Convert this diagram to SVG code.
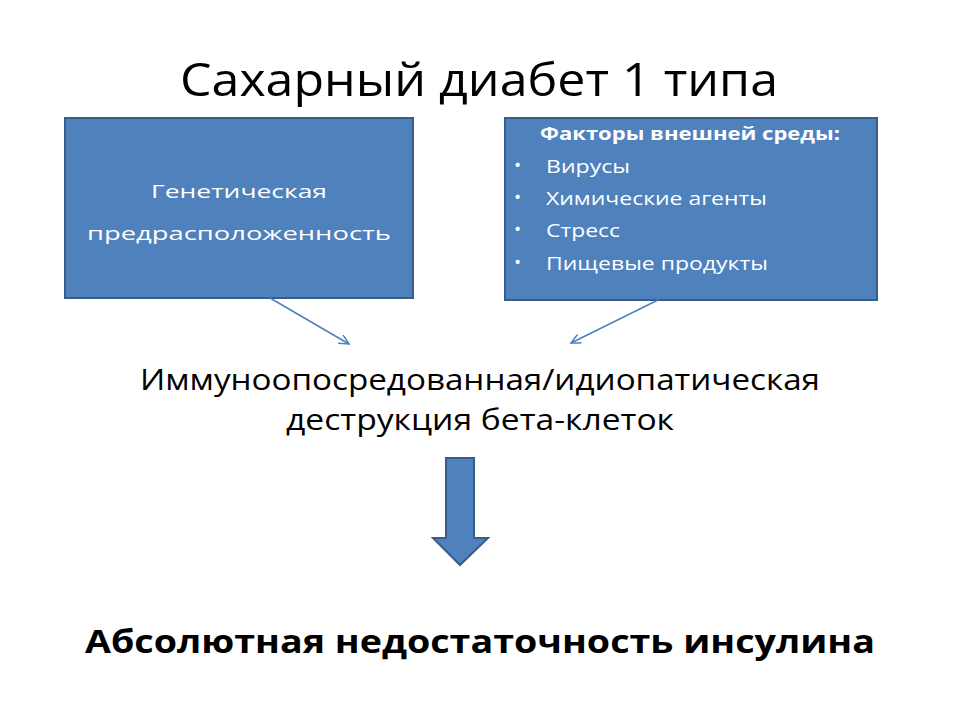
<svg xmlns="http://www.w3.org/2000/svg" width="960" height="720" viewBox="0 0 960 720">
<style>
text{font-family:"Open Sans","Liberation Sans",sans-serif;}
.box{fill:#4f81bd;stroke:#385d8a;stroke-width:2;}
.w{fill:#fff;font-size:19px;}
.c{stroke:#4f81bd;stroke-width:1.5;fill:none;marker-end:url(#ah);}
</style>
<defs><marker id="ah" markerWidth="12" markerHeight="10" refX="10" refY="5" orient="auto" markerUnits="userSpaceOnUse"><path d="M0,0 L10,5 L0,10" fill="none" stroke="#4f81bd" stroke-width="1.5"/></marker></defs>
<rect width="960" height="720" fill="#fff"/>
<text x="479" y="96" font-size="46" text-anchor="middle" textLength="598" lengthAdjust="spacingAndGlyphs" fill="#000">Сахарный диабет 1 типа</text>
<g id="genetic">
<rect class="box" x="65" y="118" width="348" height="180"/>
<text class="w" x="239" y="198" font-size="23" text-anchor="middle" textLength="176" lengthAdjust="spacingAndGlyphs">Генетическая</text>
<text class="w" x="239" y="240" font-size="23" text-anchor="middle" textLength="304" lengthAdjust="spacingAndGlyphs">предрасположенность</text>
</g>
<g id="env">
<rect class="box" x="505" y="118" width="372" height="182"/>
<text x="690" y="140" fill="#fff" font-size="18" font-weight="bold" text-anchor="middle" textLength="300" lengthAdjust="spacingAndGlyphs">Факторы внешней среды:</text>
<g class="w">
<text x="514" y="172">•</text><text x="546" y="173" textLength="84" lengthAdjust="spacingAndGlyphs">Вирусы</text>
<text x="514" y="204">•</text><text x="546" y="205" textLength="221" lengthAdjust="spacingAndGlyphs">Химические агенты</text>
<text x="514" y="236">•</text><text x="546" y="237" textLength="74" lengthAdjust="spacingAndGlyphs">Стресс</text>
<text x="514" y="269">•</text><text x="546" y="270" textLength="222" lengthAdjust="spacingAndGlyphs">Пищевые продукты</text>
</g>
</g>
<g id="connectors">
<path class="c" d="M270,298 L349,344"/>
<path class="c" d="M658,300 L571,343"/>
<path d="M446,458 H474 V538 H488 L460,565 L433,538 H446 Z" fill="#4f81bd" stroke="#385d8a" stroke-width="2"/>
</g>
<g id="destruction">
<text x="480" y="390" font-size="29" text-anchor="middle" textLength="680" lengthAdjust="spacingAndGlyphs" fill="#000">Иммуноопосредованная/идиопатическая</text>
<text x="480" y="430" font-size="29" text-anchor="middle" textLength="388" lengthAdjust="spacingAndGlyphs" fill="#000">деструкция бета-клеток</text>
</g>
<g id="result">
<text x="480" y="653" font-size="33" font-weight="bold" text-anchor="middle" textLength="790" lengthAdjust="spacingAndGlyphs" fill="#000">Абсолютная недостаточность инсулина</text>
</g>
</svg>
